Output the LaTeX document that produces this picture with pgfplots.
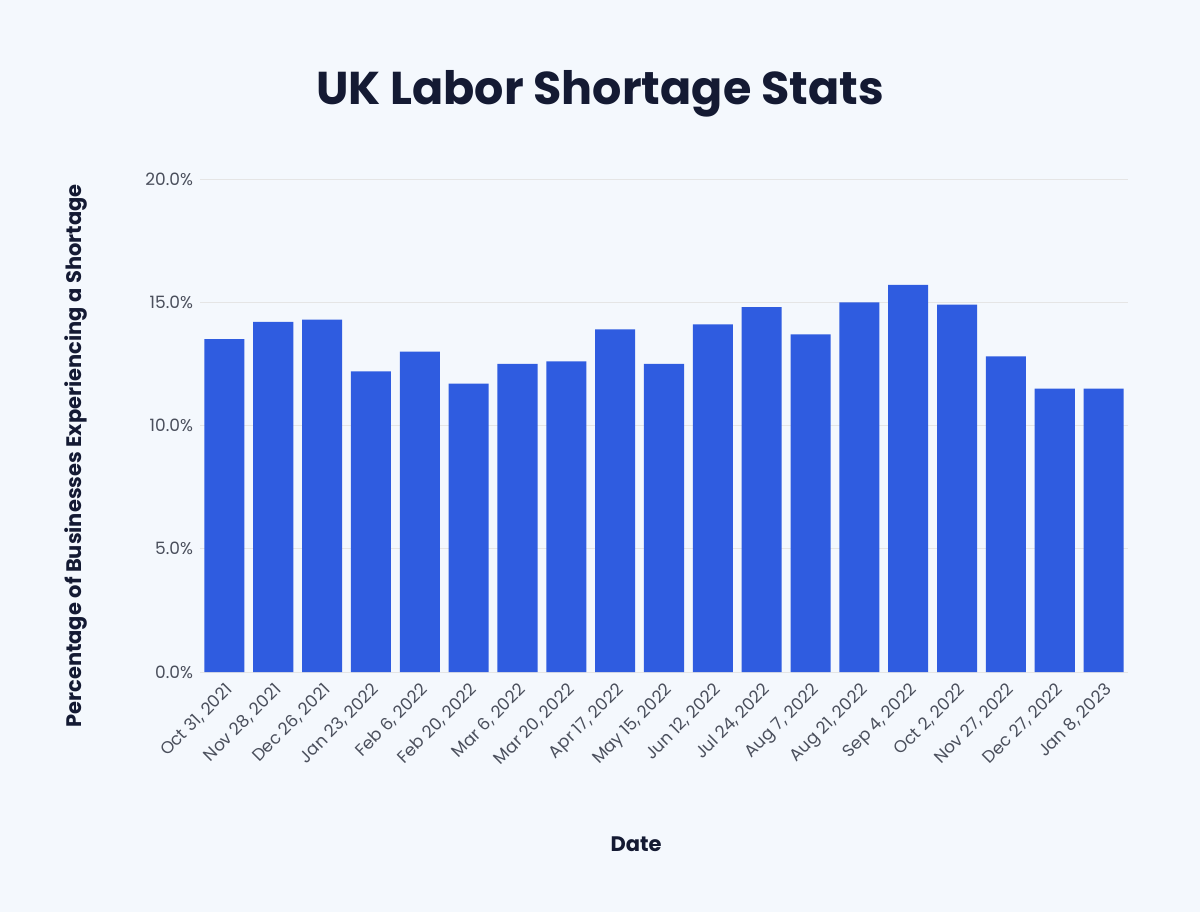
\documentclass[border=0pt]{standalone}
\usepackage{pgfplots}
\pgfplotsset{compat=1.18}
\usepackage{fontspec}
\setmainfont{Poppins}
\definecolor{bg}{HTML}{F4F8FD}
\definecolor{bar}{HTML}{2F5CE0}
\definecolor{txt}{HTML}{141A33}
\definecolor{tick}{HTML}{4A4F5C}
\begin{document}
\begin{tikzpicture}
\path[fill=bg] (0,0) rectangle (600pt,456pt);
\node[font=\bfseries\fontsize{23}{26}\selectfont,text=txt] at (300pt,409pt) {UK Labor Shortage Stats};
\node[font=\bfseries\fontsize{10.5}{12}\selectfont,text=txt,rotate=90] at (38pt,228pt) {Percentage of Businesses Experiencing a Shortage};
\node[font=\bfseries\fontsize{10.5}{12}\selectfont,text=txt] at (318pt,34pt) {Date};
\begin{axis}[at={(100pt,120pt)},anchor=south west,scale only axis,
 width=464pt,height=246.5pt,xmin=-0.5,xmax=18.5,ymin=0,ymax=20,
 axis line style={draw=none},tick style={draw=none},
 ymajorgrids,grid style={draw=gray!20},ytick={0,5,10,15,20},
 yticklabel={\pgfmathprintnumber[fixed,fixed zerofill,precision=1]{\tick}\%},
 xtick={0,...,18},
 xticklabels={{Oct 31, 2021},{Nov 28, 2021},{Dec 26, 2021},{Jan 23, 2022},{Feb 6, 2022},{Feb 20, 2022},{Mar 6, 2022},{Mar 20, 2022},{Apr 17, 2022},{May 15, 2022},{Jun 12, 2022},{Jul 24, 2022},{Aug 7, 2022},{Aug 21, 2022},{Sep 4, 2022},{Oct 2, 2022},{Nov 27, 2022},{Dec 27, 2022},{Jan 8, 2023}},
 x tick label style={rotate=45,anchor=north east,font=\fontsize{8.5}{10}\selectfont,text=tick},
 y tick label style={font=\fontsize{8.5}{10}\selectfont,text=tick},
 /pgf/number format/assume math mode=true]
\addplot[ybar,bar width=0.82,fill=bar,draw=none] coordinates {
(0,13.5)(1,14.2)(2,14.3)(3,12.2)(4,13.0)(5,11.7)(6,12.5)(7,12.6)(8,13.9)(9,12.5)(10,14.1)(11,14.8)(12,13.7)(13,15.0)(14,15.7)(15,14.9)(16,12.8)(17,11.5)(18,11.5)};
\end{axis}
\end{tikzpicture}
\end{document}
